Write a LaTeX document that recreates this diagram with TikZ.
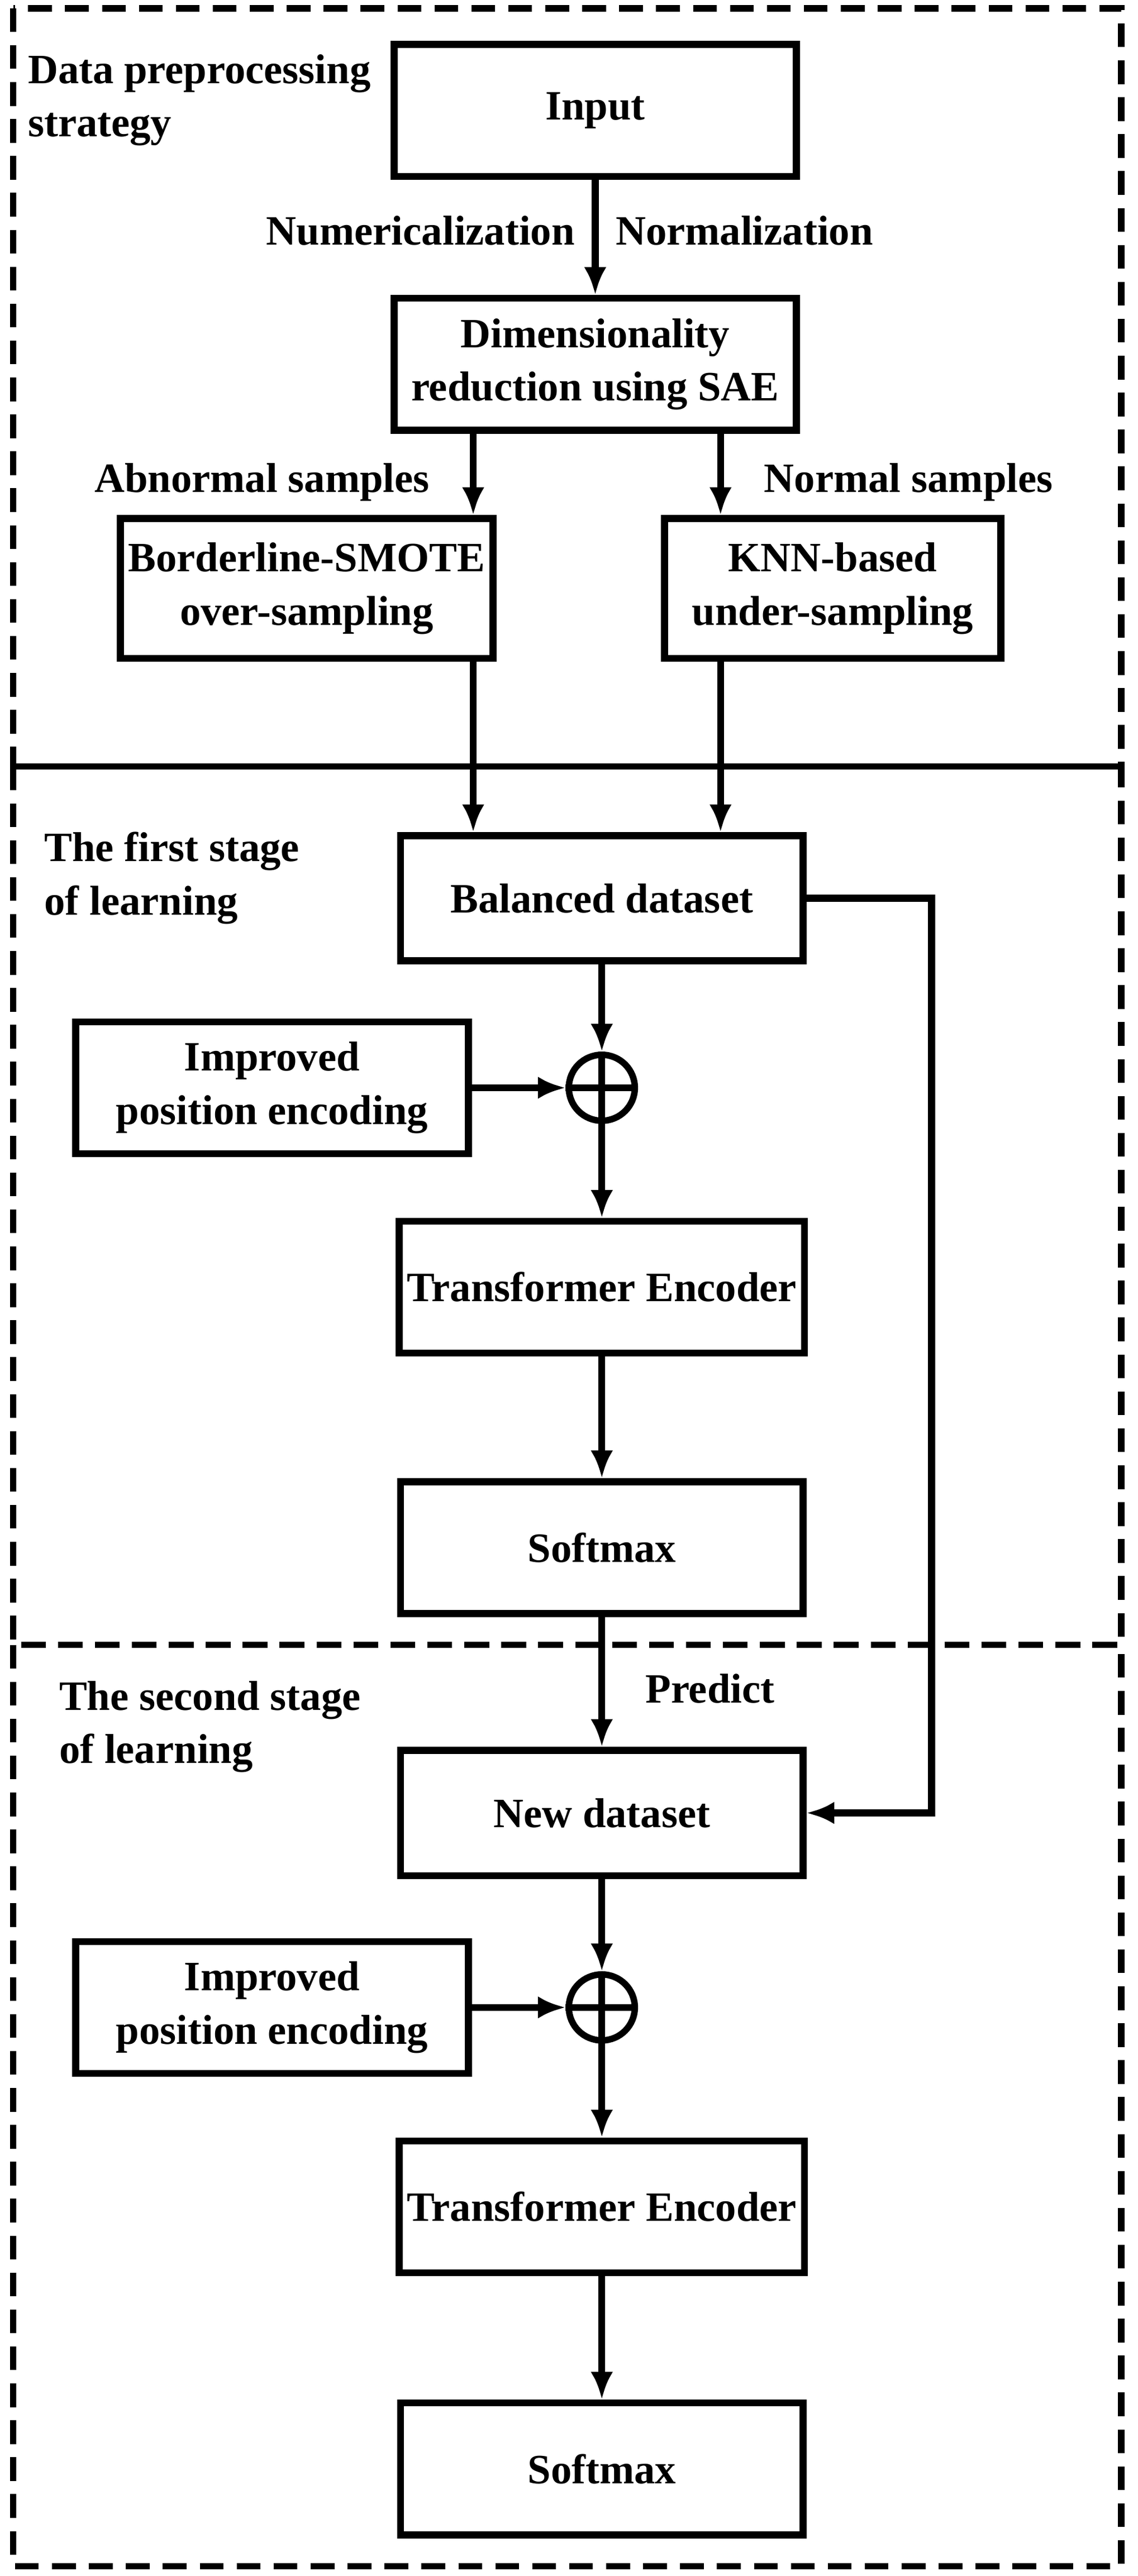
\documentclass[tikz,border=0pt]{standalone}
\usepackage{fontspec}
\setmainfont{Liberation Serif}
\usetikzlibrary{positioning,arrows.meta}

\begin{document}
\begin{tikzpicture}[
  x=0.025cm, y=-0.025cm,
  box/.style={rectangle, draw, line width=3pt, align=center, minimum width=6.1cm, minimum height=2cm, font=\fontsize{18}{23}\selectfont\bfseries},
  wide/.style={box, minimum width=5.1cm, minimum height=2.12cm},
  pe/.style={box, minimum width=5.95cm},
  stage/.style={draw, line width=2.8pt, dash pattern=on 0.36cm off 0.2cm},
  lbl/.style={font=\fontsize{18}{23}\selectfont\bfseries, align=left},
  plus/.style={circle, draw, line width=2.8pt, minimum size=1cm, inner sep=0pt},
  arrow/.style={-{Latex[length=0.42cm,width=0.34cm]}, line width=3pt}
]
\useasboundingbox (0,0) rectangle (690,1563);

% Stage frames
\draw[stage] (8,5) rectangle (680,465);
\draw[stage] (8,465) rectangle (680,998);
\draw[stage] (8,998) rectangle (680,1557);

% Stage titles
\node[lbl, anchor=north west] (s1) at (12,28) {Data preprocessing\\strategy};
\node[lbl, anchor=north west] (s2) at (22,500) {The first stage\\of learning};
\node[lbl, anchor=north west] (s3) at (31,1015) {The second stage\\of learning};

% Preprocessing
\node[box] (input) at (361,67) {Input};
\node[box] (dim) at (361,221) {Dimensionality\\reduction using SAE};
\node[wide] (bord) at (186,357) {Borderline-SMOTE\\over-sampling};
\node[wide] (knn) at (505,357) {KNN-based\\under-sampling};

% First stage
\node[box, minimum height=1.9cm] (bal) at (365,545) {Balanced dataset};
\node[plus] (p1) at (365,660) {};
\node[pe] (pe1) at (165,660) {Improved\\position encoding};
\node[box] (tr1) at (365,781) {Transformer Encoder};
\node[box] (sm1) at (365,939) {Softmax};

% Second stage
\node[box, minimum height=1.9cm] (new) at (365,1100) {New dataset};
\node[plus] (p2) at (365,1218) {};
\node[pe] (pe2) at (165,1218) {Improved\\position encoding};
\node[box] (tr2) at (365,1339) {Transformer Encoder};
\node[box] (sm2) at (365,1498) {Softmax};

\coordinate (ca) at (287,0);
\coordinate (cb) at (437,0);
\coordinate (cr) at (565,0);

% Arrows
\draw[arrow] (input) -- (dim)
  node[midway, left, lbl, xshift=-4pt, yshift=3pt] {Numericalization}
  node[midway, right, lbl, xshift=4pt, yshift=3pt] {Normalization};
\draw[arrow] (dim.south -| ca) -- (bord.north -| ca)
  node[pos=0.6, left, lbl, xshift=-14pt] {Abnormal samples};
\draw[arrow] (dim.south -| cb) -- (knn.north -| cb)
  node[pos=0.6, right, lbl, xshift=14pt] {Normal samples};
\draw[arrow] (bord.south -| ca) -- (bal.north -| ca);
\draw[arrow] (knn.south -| cb) -- (bal.north -| cb);
\draw[arrow] (bal) -- (p1);
\draw[arrow] (pe1) -- (p1);
\draw[line width=2.8pt] (p1.north) -- (p1.south) (p1.west) -- (p1.east);
\draw[arrow] (p1) -- (tr1);
\draw[arrow] (tr1) -- (sm1);
\draw[arrow] (sm1) -- (new) node[pos=0.55, right, lbl, xshift=14pt] {Predict};
\draw[arrow] (bal.east) -- (bal.east -| cr) -- (new.east -| cr) -- (new.east);
\draw[arrow] (new) -- (p2);
\draw[arrow] (pe2) -- (p2);
\draw[line width=2.8pt] (p2.north) -- (p2.south) (p2.west) -- (p2.east);
\draw[arrow] (p2) -- (tr2);
\draw[arrow] (tr2) -- (sm2);
\end{tikzpicture}
\end{document}
